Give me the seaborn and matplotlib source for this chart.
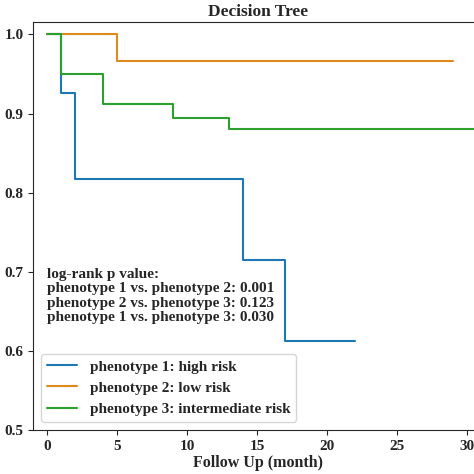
import matplotlib
matplotlib.use("Agg")
import matplotlib.pyplot as plt
import seaborn as sns
import pandas as pd

sns.set_style("ticks")
plt.rcParams['font.family'] = ['Liberation Serif', 'DejaVu Serif']
plt.rcParams['font.weight'] = 'bold'

t1 = [0, 1, 2, 14, 17, 22]
s1 = [1.0, 0.926, 0.817, 0.715, 0.612, 0.612]
t2 = [0, 5, 29]
s2 = [1.0, 0.967, 0.967]
t3 = [0, 1, 4, 9, 13, 31]
s3 = [1.0, 0.95, 0.912, 0.895, 0.88, 0.88]
labels = ["phenotype 1: high risk", "phenotype 2: low risk", "phenotype 3: intermediate risk"]
colors = ["#1f77b4", "#e08a1e", "#2ca02c"]

df = pd.concat([pd.DataFrame({"t": t, "s": s, "g": l}) for t, s, l in zip([t1, t2, t3], [s1, s2, s3], labels)])

fig = plt.figure(figsize=(4.74, 4.74), dpi=100)
ax = fig.add_axes([0.07, 0.093, 0.95, 0.861])
for (l, c) in zip(labels, colors):
    d = df[df.g == l]
    ax.step(d.t, d.s, where="post", color=c, lw=1.5, label=l)
ax.set_xlim(-1, 31.2)
ax.set_ylim(0.5, 1.016)
ax.set_xticks([0, 5, 10, 15, 20, 25, 30])
ax.set_yticks([0.5, 0.6, 0.7, 0.8, 0.9, 1.0])
for lab in ax.get_xticklabels() + ax.get_yticklabels():
    lab.set_fontweight('bold')
ax.tick_params(labelsize=11)
ax.set_xlabel("Follow Up (month)", fontsize=11.5, fontweight='bold', labelpad=2)
ax.set_title("Decision Tree", fontsize=12.5, fontweight='bold', pad=4)
ax.text(0, 0.705, "log-rank p value:\nphenotype 1 vs. phenotype 2: 0.001\nphenotype 2 vs. phenotype 3: 0.123\nphenotype 1 vs. phenotype 3: 0.030",
        fontsize=11, fontweight='bold', va='top', linespacing=1.15)
leg = ax.legend(loc="lower left", fontsize=11, frameon=True)
for tx in leg.get_texts():
    tx.set_fontweight('bold')
fig.savefig("out.png", dpi=100)
